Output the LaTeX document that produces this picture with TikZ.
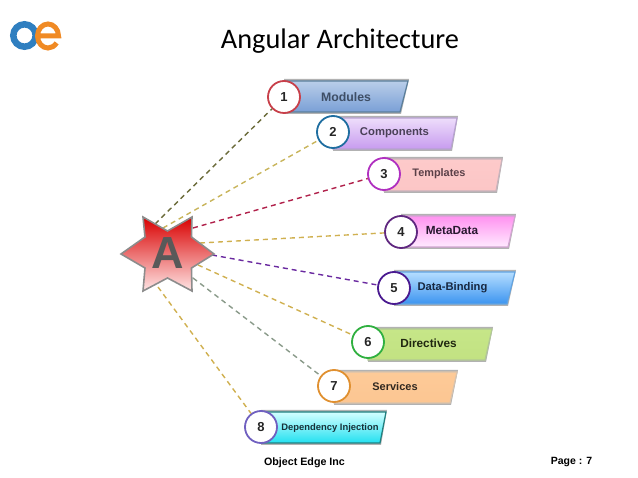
\documentclass[tikz,border=0pt]{standalone}
\usepackage{fontspec}
\setmainfont{Liberation Sans}
\newfontfamily\titlefont{Carlito}
\definecolor{logoblue}{HTML}{2F7FC0}
\definecolor{logoorange}{HTML}{F08A24}
\tikzset{
  num/.style={circle,draw,line width=1.8pt,fill=white,minimum size=32pt,inner sep=0pt,font=\bfseries\fontsize{13}{13}\selectfont,text=black!85},
  link/.style={dashed,dash pattern=on 5pt off 4pt,line width=1.4pt},
  ribbontext/.style={font=\bfseries,inner sep=0pt}
}
\begin{document}
\begin{tikzpicture}[x=1pt,y=1pt]
  \useasboundingbox (0,0) rectangle (638,-478);
  % logo
  \draw[logoblue,line width=6.5pt] (24.5,-35.5) circle (11.2);
  \draw[logoorange,line width=5pt] (38,-36) -- (58.5,-36) arc (0:325:10.5 and 12);
  \node (title) at (340,-41.5) {\titlefont\fontsize{28.3}{28.3}\selectfont Angular Architecture};
  % ribbons
  \foreach \n/\cx/\cy/\topy/\boty/\tr/\br/\ctop/\cbot/\cline in {
    1/284/97/81/112/408/400/B9CEE9/7A9FD6/5B7F9C,
    2/333/132/118/149/457/451/EEDDFB/C79CEF/B8A2D2,
    3/384/174/159/191/502/496/FDCACA/FCC6C6/C9B3BC,
    4/401/232/216/247/515/508/FF92F0/FFEAFF/D2A4D2,
    5/394/288/272/304/515/507/B5DEFF/3C94F0/62A4E2,
    6/368/342/329/360/492/485/C6E688/C2E282/B2CA94,
    7/334/386/372/403/457/450/FDCA98/FCC692/DAC3AC,
    8/261/427/412/443/386/380/D4FFFF/22E0F0/1F8080}
  {
    \definecolor{ctop}{HTML}{\ctop}
    \definecolor{cbot}{HTML}{\cbot}
    \definecolor{cline}{HTML}{\cline}
    \fill[black!30] (\cx,-\topy+2) -- (\tr+1,-\topy+2) -- (\br+1,-\boty-2) -- (\cx,-\boty-2) -- cycle;
    \draw[cline,line width=1.2pt,top color=ctop,bottom color=cbot] (\cx,-\topy) -- (\tr,-\topy) -- (\br,-\boty) -- (\cx,-\boty) -- cycle;
  }
  % circles
  \foreach \n/\cx/\cy/\cline in {1/284/97/C8404A,2/333/132/1F6EA0,3/384/174/B030C0,4/401/232/602880,
    5/394/288/4A1A90,6/368/342/30B040,7/334/386/E09030,8/261/427/7060C0}
  {
    \definecolor{cline}{HTML}{\cline}
    \node[num,draw=cline] (c\n) at (\cx,-\cy) {\n};
  }
  % labels
  \foreach \n/\tx/\ty/\size/\lbl/\ctext in {
    1/346/97/12.3/Modules/3E4E66,
    2/394.5/133/11.3/Components/4A4058,
    3/439/174/10.9/Templates/5A4048,
    4/452/231/11.8/MetaData/281830,
    5/452.5/288/11.2/Data-Binding/182840,
    6/428.5/343/11.8/Directives/202810,
    7/395/387/11/Services/302820,
    8/330/428/9.4/Dependency Injection/183038}
  {
    \definecolor{ctext}{HTML}{\ctext}
    \node[ribbontext,text=ctext] (t\n) at (\tx,-\ty) {\fontsize{\size}{\size}\selectfont\lbl};
  }
  % connectors
  \foreach \n/\sx/\sy/\cline in {1/155/224/6B6B3A,2/163/228/C8B45A,3/193/228/B0204A,4/200/243/D0B050,
    5/212/255/6A2AA0,6/198/265/D0B050,7/193/278/8A9A8A,8/158/287/D0B050}
  {
    \definecolor{cline}{HTML}{\cline}
    \coordinate (s\n) at (\sx,-\sy);
    \draw[link,cline] (s\n) -- (c\n);
  }
  % star
  \draw[draw=black!45,line width=1.6pt,top color=red!85!black,bottom color=red!10!white]
    (214,-254) -- (191.5,-237) -- (192,-217) -- (167.5,-231) -- (143,-217) -- (145,-237) -- (121,-254)
    -- (145,-268) -- (143,-291) -- (167.5,-278) -- (192,-291) -- (191.5,-268) -- cycle;
  \node[text=black!65,inner sep=0pt,font=\bfseries\fontsize{45}{45}\selectfont] (star) at (168,-253.5) {A};
  \node[font=\bfseries\fontsize{10.7}{10.7}\selectfont] (footl) at (304.5,-462.5) {Object Edge Inc};
  \node[font=\bfseries\fontsize{10.5}{10.5}\selectfont] (footr) at (571.5,-462.5) {Page : 7};
\end{tikzpicture}
\end{document}
